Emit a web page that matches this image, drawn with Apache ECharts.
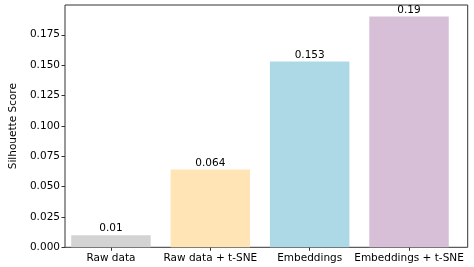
<!DOCTYPE html>
<html>
<head>
<meta charset="utf-8">
<script src="https://cdn.jsdelivr.net/npm/echarts@6/dist/echarts.min.js"></script>
<style>
  html, body { margin: 0; padding: 0; background: #fff; }
  #chart { width: 474px; height: 267px; }
</style>
</head>
<body>
<div id="chart"></div>
<script>
const categories = ["Raw data", "Raw data + t-SNE", "Embeddings", "Embeddings + t-SNE"];
const scores = [0.01, 0.064, 0.153, 0.19];
const barColors = ["#d3d3d3", "#ffe4b5", "#add8e6", "#d8bfd8"];
const yTicks = { min: 0, max: 0.1995, step: 0.025 };

const font = "DejaVu Sans";
let chart = echarts.init(document.getElementById("chart"), null, { renderer: "canvas" });

// grid 0 = axes frame + y axis, grid 1 = bars (inset like matplotlib margins)
const frame = { left: 52.3, right: 6.3, top: 5, bottom: 19.7 };
const inset = 9;

chart.setOption({
  animation: false,
  grid: [
    { ...frame, show: true, borderColor: "#333", borderWidth: 1, backgroundColor: "transparent" },
    { left: frame.left + inset, right: frame.right + inset, top: frame.top, bottom: frame.bottom }
  ],
  xAxis: [
    { type: "category", gridIndex: 0, data: categories, show: false },
    {
      type: "category", gridIndex: 1, data: categories,
      axisLine: { show: false },
      axisTick: { show: true, alignWithLabel: true, length: 3.5, lineStyle: { color: "#333" } },
      axisLabel: { color: "#000", fontFamily: font, fontSize: 10.5, margin: 5, interval: 0 }
    }
  ],
  yAxis: [
    {
      type: "value", gridIndex: 0, min: yTicks.min, max: yTicks.max, interval: yTicks.step,
      name: "Silhouette Score", nameLocation: "middle", nameGap: 46,
      nameTextStyle: { color: "#000", fontFamily: font, fontSize: 10.5 },
      axisLine: { show: false },
      axisTick: { show: true, length: 3.5, lineStyle: { color: "#333" } },
      splitLine: { show: false },
      axisLabel: { color: "#000", fontFamily: font, fontSize: 10.5, margin: 5,
                   showMaxLabel: false, formatter: v => v.toFixed(3) }
    },
    { type: "value", gridIndex: 1, min: yTicks.min, max: yTicks.max, show: false }
  ],
  series: [{
    type: "bar",
    xAxisIndex: 1, yAxisIndex: 1,
    barWidth: "80%",
    data: scores.map((v, i) => ({ value: v, itemStyle: { color: barColors[i] } })),
    label: {
      show: true, position: "top", distance: 1,
      color: "#000", fontFamily: font, fontSize: 10.5,
      formatter: p => String(p.value)
    }
  }]
});
</script>
</body>
</html>
